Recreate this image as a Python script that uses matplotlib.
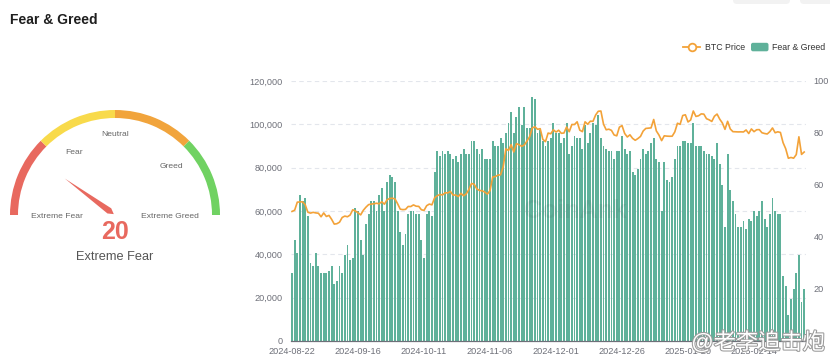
import matplotlib
matplotlib.use("Agg")
import matplotlib.pyplot as plt
import matplotlib.patheffects as pe
from matplotlib.patches import Wedge, Polygon, FancyBboxPatch
import numpy as np
import pandas as pd

plt.rcParams['font.family'] = ['Liberation Sans', 'Noto Sans CJK SC', 'DejaVu Sans']

# ---------------- data ----------------
dates = [d.strftime('%Y-%m-%d') for d in pd.date_range('2024-08-22', '2025-03-05')
         if d.strftime('%Y-%m-%d') != '2024-10-26']

fear_greed = [
    26, 39, 34, 56, 54, 55, 48, 30, 29, 34, 29, 26, 26, 26, 27, 29, 22, 23, 29, 26, 33, 37, 31, 32, 51, 50, 39, 33, 45, 49, 54, 54,
    50, 56, 59, 50, 61, 64, 63, 61, 50, 42, 37, 41, 49, 50, 50, 49, 49, 39, 32, 49, 50, 48, 65, 73, 71, 73, 72, 73, 72, 70, 71, 69, 72,
    74, 72, 72, 77, 77, 74, 72, 74, 70, 70, 70, 77, 75, 75, 78, 76, 80, 84, 88, 80, 86, 90, 83, 90, 82, 82, 94, 93, 80, 81, 77, 75, 77,
    78, 84, 80, 80, 76, 78, 84, 72, 75, 79, 78, 78, 74, 83, 76, 80, 84, 83, 87, 78, 75, 74, 73, 73, 70, 73, 73, 79, 74, 72, 73, 65, 64, 66,
    70, 74, 72, 73, 76, 78, 70, 69, 50, 69, 62, 61, 63, 70, 75, 75, 77, 77, 76, 76, 84, 75, 75, 75, 73, 72, 72, 71, 70, 76, 68, 60, 44,
    72, 58, 54, 49, 44, 44, 46, 43, 47, 46, 50, 48, 50, 54, 47, 44, 49, 55, 50, 49, 49, 25, 21, 10, 16, 20, 26, 33, 15, 20,
]

btc_price = [
    59800, 60380, 64090, 64180, 64250, 62880, 59420, 59030, 59380, 59120,
    58970, 57330, 59110, 57480, 57970, 56160, 53950, 54140, 54840, 57020,
    57650, 57340, 58130, 60570, 60000, 59180, 58210, 60310, 61760, 62940,
    63190, 63350, 63580, 63340, 64260, 63140, 65180, 65790, 65890, 65600,
    63330, 60840, 60630, 60750, 62090, 62060, 62820, 62220, 62130, 60580,
    60270, 62450, 63190, 62850, 66050, 67040, 67610, 67400, 68420, 68360,
    69000, 67370, 67360, 66680, 68160, 67010, 67930, 69910, 72720, 72340,
    70220, 69480, 69340, 68740, 67810, 69360, 75640, 75900, 76550, 76700,
    80470, 88700, 87950, 90580, 87250, 91070, 90560, 89850, 90460, 92310,
    94290, 98320, 98900, 97700, 98000, 93100, 91990, 95960, 95650, 97460,
    96450, 97280, 95860, 96000, 98770, 96590, 99920, 99920, 101170, 97320,
    96620, 101170, 100040, 101460, 101370, 104300, 106030, 106140, 100040, 97490,
    97760, 97220, 95100, 94690, 98680, 99430, 95790, 94160, 95160, 93530,
    92640, 93430, 94420, 96890, 98110, 98240, 98360, 102240, 96950, 95040,
    92480, 94700, 94560, 94490, 94520, 96530, 100500, 99990, 104080, 104400,
    101090, 102020, 106150, 103650, 103960, 104820, 104710, 102600, 102080, 101330,
    103730, 104740, 102410, 100650, 97690, 101400, 97870, 96620, 96550, 96500,
    96530, 96480, 97400, 95750, 97870, 96610, 97510, 97570, 96120, 95770,
    95540, 96640, 98330, 96120, 96550, 96250, 91550, 88740, 84350, 84710,
    84370, 86030, 94250, 86120, 87220,
]

price_ticks = [0, 20000, 40000, 60000, 80000, 100000, 120000]
fg_ticks = [0, 20, 40, 60, 80, 100]
label_every = 25

gauge_value = 20
gauge_state = 'Extreme Fear'
gauge_bands = [(0, 25, '#e8695f'), (25, 50, '#f8da4b'), (50, 75, '#f1a43c'), (75, 100, '#70d262')]
gauge_labels = [('Extreme Fear', 57, 216), ('Fear', 74, 152), ('Neutral', 115, 135),
                ('Greed', 171, 166), ('Extreme Greed', 170, 216)]

GREEN = '#5fb19a'
ORANGE = '#f3a238'
TXT = '#6e7079'

# ---------------- figure ----------------
fig = plt.figure(figsize=(8.3, 3.6), dpi=100)
bg = fig.add_axes([0, 0, 1, 1])
bg.set_xlim(0, 830)
bg.set_ylim(360, 0)
bg.axis('off')

bg.text(10, 20, 'Fear & Greed', fontsize=10, fontweight='bold', va='center', ha='left', color='#1f1f1f')

# top-right buttons (cut off)
bg.add_patch(FancyBboxPatch((733, -10), 57, 14, boxstyle='round,pad=0,rounding_size=4', fc='#f2f2f2', ec='none'))
bg.add_patch(FancyBboxPatch((800, -10), 40, 14, boxstyle='round,pad=0,rounding_size=4', fc='#f2f2f2', ec='none'))

# legend
bg.plot([683, 700], [47, 47], color=ORANGE, lw=1.3)
bg.plot([691.5], [47], 'o', ms=5.5, mfc='white', mec=ORANGE, mew=1.3)
bg.text(704.5, 47.3, 'BTC Price', fontsize=6.3, va='center', ha='left', color='#333333')
bg.add_patch(FancyBboxPatch((751, 42.8), 17.5, 8.5, boxstyle='round,pad=0,rounding_size=2', fc=GREEN, ec='none'))
bg.text(772, 47.3, 'Fear & Greed', fontsize=6.3, va='center', ha='left', color='#333333')

# gauge
cx, cy, R, W = 115, 215, 105, 8
for lo, hi, col in gauge_bands:
    bg.add_patch(Wedge((cx, cy), R, 180 + 1.8 * lo, 180 + 1.8 * hi, width=W, fc=col, ec='none'))
for txt, x, y in gauge_labels:
    bg.text(x, y, txt, fontsize=6.1, ha='center', va='center', color='#666666')

th = np.deg2rad(180 + 1.8 * gauge_value)
d = np.array([np.cos(th), np.sin(th)])
p = np.array([-d[1], d[0]])
c = np.array([cx, cy])
needle = [c + d * 62, c + d * 7 + p * 3.2, c + d * 1.5, c + d * 7 - p * 3.2]
bg.add_patch(Polygon(needle, closed=True, fc='#e8695f', ec='none'))

bg.text(cx, 232, str(gauge_value), fontsize=18, fontweight='bold', ha='center', va='center', color='#e8695f')
bg.text(cx, 257, gauge_state, fontsize=9.2, ha='center', va='center', color='#555555')

# main chart
N = len(dates)
x = np.arange(N)
ax = fig.add_axes([290.7 / 830, 1 - 341 / 360, 514.8 / 830, 260 / 360])
ax.patch.set_alpha(0)
ax2 = ax.twinx()

ax.set_xlim(-0.5, N - 0.5)
ax.set_ylim(0, 100)
for v in price_ticks[1:]:
    ax.axhline(v / price_ticks[-1] * 100, color='#e3e6ec', lw=0.8, ls=(0, (4, 3)), zorder=0)
ax.bar(x, fear_greed, width=0.72, color=GREEN, zorder=2, linewidth=0)
ax.set_yticks(fg_ticks)
ax.set_yticklabels([str(t) for t in fg_ticks])
ax.yaxis.set_ticks_position('right')
ax.yaxis.set_label_position('right')
ax.set_xticks(x[::label_every])
ax.set_xticklabels([dates[i] for i in x[::label_every]])
ax.tick_params(axis='both', length=0, labelsize=6.6, labelcolor=TXT)
ax.tick_params(axis='x', pad=4)
ax.tick_params(axis='y', pad=6, left=False, labelleft=False, right=False, labelright=True)
for s in ['top', 'left', 'right']:
    ax.spines[s].set_visible(False)
ax.spines['bottom'].set_color('#6e7079')
ax.spines['bottom'].set_linewidth(0.9)
ax.spines['bottom'].set_zorder(5)

ax2.set_ylim(0, price_ticks[-1])
ax2.plot(x, btc_price, color=ORANGE, lw=1.2, zorder=3)
ax2.set_yticks(price_ticks)
ax2.set_yticklabels([f'{t:,}' for t in price_ticks])
ax2.yaxis.set_ticks_position('left')
ax2.yaxis.set_label_position('left')
ax2.tick_params(axis='y', length=0, labelsize=6.6, labelcolor=TXT, pad=6,
                left=False, labelleft=True, right=False, labelright=False)
for s in ax2.spines.values():
    s.set_visible(False)
ax2.text(0.552, 0.5, 'CoinAnk', transform=ax2.transAxes, fontsize=18, fontweight='bold',
         color='#000000', alpha=0.05, ha='center', va='center')

# platform watermark
fig.text(758 / 830, 1 - 343 / 360, '@老李追击炮', fontsize=16, color='white', ha='center', va='center',
         zorder=20, path_effects=[pe.withStroke(linewidth=1.5, foreground='#9a9a9a')])

fig.savefig('out.png', dpi=100)
